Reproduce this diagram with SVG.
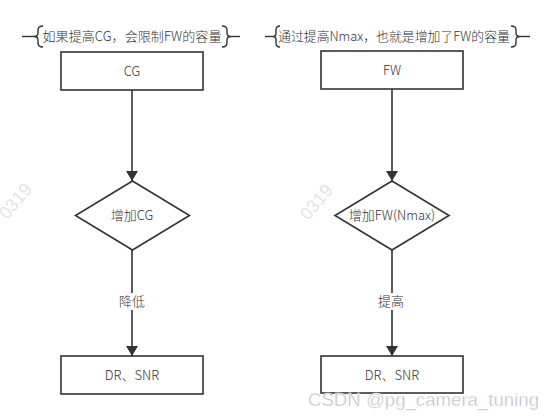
<svg xmlns="http://www.w3.org/2000/svg" width="555" height="419" viewBox="0 0 555 419">
<defs>
<style>
.t{font-family:"Microsoft YaHei","Noto Sans CJK SC","Noto Sans",sans-serif;fill:#333;text-anchor:middle;font-weight:300;}
.n{font-size:13px;}
.h{font-size:13px;}
.box{fill:#fff;stroke:#333;stroke-width:1.6;}
.ln{fill:none;stroke:#333;stroke-width:1.6;}
.br{fill:none;stroke:#333;stroke-width:1.4;}
.wm{font-family:"Liberation Sans",Arial,sans-serif;font-size:18px;fill:#e4e4e4;text-anchor:middle;}
</style>
<marker id="ah" markerWidth="10" markerHeight="12" refX="10" refY="6" orient="auto" markerUnits="userSpaceOnUse">
<path d="M0,0 L10,6 L0,12 Z" fill="#333"/>
</marker>
</defs>
<rect width="555" height="419" fill="#fff"/>
<text class="wm" transform="translate(20,205) rotate(-50)">0319</text>
<text class="wm" transform="translate(321,206) rotate(-50)">0319</text>
<g id="connectors">
<line class="ln" x1="132" y1="90" x2="132" y2="181" marker-end="url(#ah)"/>
<line class="ln" x1="132" y1="250" x2="132" y2="356" marker-end="url(#ah)"/>
<line class="ln" x1="392" y1="89" x2="392" y2="181" marker-end="url(#ah)"/>
<line class="ln" x1="392" y1="250" x2="392" y2="356" marker-end="url(#ah)"/>
<rect x="116" y="293" width="32" height="17" fill="#fff"/>
<text class="t n" x="132" y="306">降低</text>
<rect x="376" y="293" width="32" height="17" fill="#fff"/>
<text class="t n" x="391" y="306">提高</text>
</g>
<g id="note1">
<line class="br" x1="22" y1="36.5" x2="34" y2="36.5"/>
<path class="br" d="M43,26 Q38,26 38,30 L38,33 Q38,36.5 34,36.5 Q38,36.5 38,40 L38,43 Q38,47 43,47"/>
<text class="t h" x="132" y="41" textLength="179" lengthAdjust="spacingAndGlyphs">如果提高CG，会限制FW的容量</text>
<path class="br" d="M222,26 Q227,26 227,30 L227,33 Q227,36.5 231,36.5 Q227,36.5 227,40 L227,43 Q227,47 222,47"/>
<line class="br" x1="231" y1="36.5" x2="240" y2="36.5"/>
</g>
<g id="note2">
<line class="br" x1="265" y1="36.5" x2="273" y2="36.5"/>
<path class="br" d="M280,26 Q276,26 276,30 L276,33 Q276,36.5 273,36.5 Q276,36.5 276,40 L276,43 Q276,47 280,47"/>
<text class="t h" x="394" y="41" textLength="232" lengthAdjust="spacingAndGlyphs">通过提高Nmax，也就是增加了FW的容量</text>
<path class="br" d="M511,26 Q516,26 516,30 L516,33 Q516,36.5 520,36.5 Q516,36.5 516,40 L516,43 Q516,47 511,47"/>
<line class="br" x1="520" y1="36.5" x2="530" y2="36.5"/>
</g>
<g id="cg">
<rect class="box" x="61" y="52" width="142" height="38"/>
<text class="t n" x="132" y="76">CG</text>
</g>
<g id="fw">
<rect class="box" x="321" y="51" width="142" height="38"/>
<text class="t n" x="392" y="75">FW</text>
</g>
<g id="inc-cg">
<path class="box" d="M132.5,181 L189.5,215.5 L132.5,250 L75.5,215.5 Z"/>
<text class="t n" x="132" y="220">增加CG</text>
</g>
<g id="inc-fw">
<path class="box" d="M392,181 L449,215.5 L392,250 L335,215.5 Z"/>
<text class="t n" x="392" y="220">增加FW(Nmax)</text>
</g>
<g id="dr1">
<rect class="box" x="61" y="356" width="142" height="38"/>
<text class="t n" x="132" y="380">DR、SNR</text>
</g>
<g id="dr2">
<rect class="box" x="321" y="356" width="142" height="37"/>
<text class="t n" x="392" y="380">DR、SNR</text>
</g>
<text x="308" y="406" font-family="'Liberation Sans',Arial,sans-serif" font-size="18" fill="#bdbdbd" stroke="#fff" stroke-width="0.4" textLength="231" lengthAdjust="spacingAndGlyphs">CSDN @pg_camera_tuning</text>
</svg>
